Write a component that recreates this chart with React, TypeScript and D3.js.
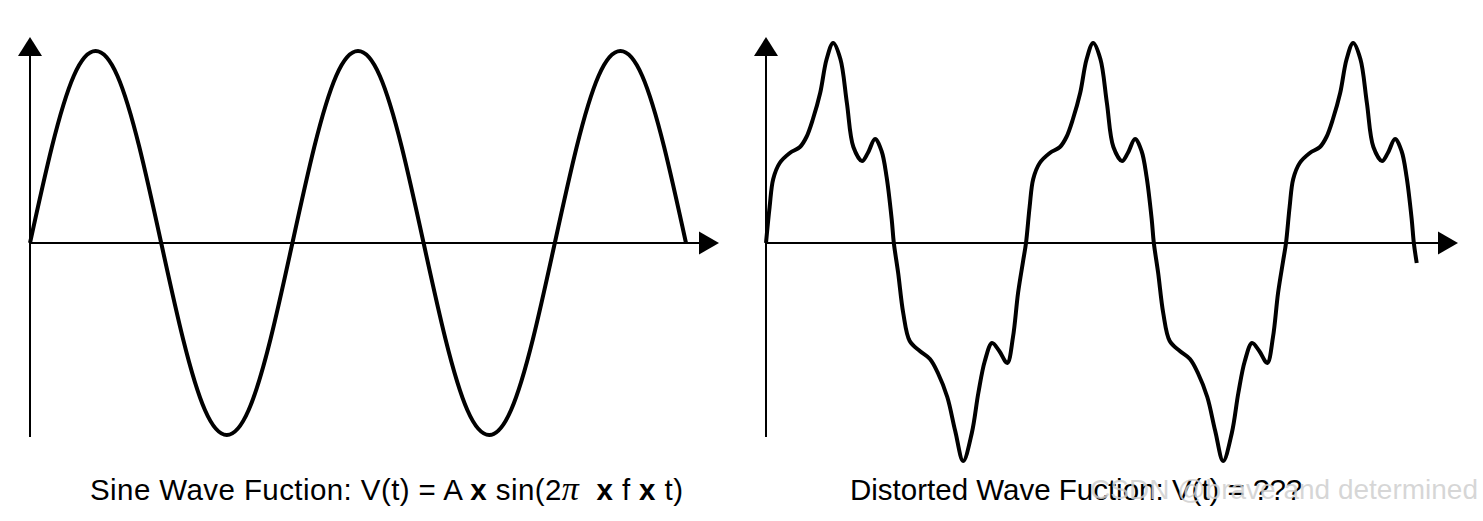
import React from "react";
import * as d3 from "d3";

// phase in degrees, amplitude normalised to the sine peak
const sineT = [0, 30, 60, 90, 120, 150, 180, 210, 240, 270, 300, 330, 360, 390, 420, 450, 480, 510, 540, 570, 600, 630, 660, 690, 720, 750, 780, 810, 840, 870, 900];
const sineV = [0, 0.5, 0.87, 1, 0.87, 0.5, 0, -0.5, -0.87, -1, -0.87, -0.5, 0, 0.5, 0.87, 1, 0.87, 0.5, 0, -0.5, -0.87, -1, -0.87, -0.5, 0, 0.5, 0.87, 1, 0.87, 0.5, 0];

const distortedT = [
    0, 5, 10, 19, 33, 47, 56, 65, 75, 84, 93, 103, 112, 121, 133, 141, 151, 160, 167, 174, 177,
    183, 190, 199, 213, 227, 238, 251, 262, 273, 285, 294, 303, 313, 323, 334, 342, 349, 356,
    360, 365, 370, 379, 393, 407, 416, 425, 435, 444, 453, 463, 472, 481, 493, 501, 511, 520, 527, 534, 537,
    543, 550, 559, 573, 587, 598, 611, 622, 633, 645, 654, 663, 673, 683, 694, 702, 709, 716,
    720, 725, 730, 739, 753, 767, 776, 785, 795, 804, 813, 823, 832, 841, 853, 861, 871, 880, 887, 894, 897, 901,
];
const distortedV = [
    0, 0.18, 0.32, 0.4, 0.45, 0.48, 0.53, 0.62, 0.75, 0.92, 1, 0.92, 0.7, 0.48, 0.41, 0.45, 0.52, 0.46, 0.33, 0.12, 0,
    -0.15, -0.35, -0.49, -0.54, -0.58, -0.65, -0.77, -0.94, -1.09, -0.95, -0.75, -0.59, -0.5, -0.54, -0.6, -0.47, -0.25, -0.09,
    0, 0.18, 0.32, 0.4, 0.45, 0.48, 0.53, 0.62, 0.75, 0.92, 1, 0.92, 0.7, 0.48, 0.41, 0.45, 0.52, 0.46, 0.33, 0.12, 0,
    -0.15, -0.35, -0.49, -0.54, -0.58, -0.65, -0.77, -0.94, -1.09, -0.95, -0.75, -0.59, -0.5, -0.54, -0.6, -0.47, -0.25, -0.09,
    0, 0.18, 0.32, 0.4, 0.45, 0.48, 0.53, 0.62, 0.75, 0.92, 1, 0.92, 0.7, 0.48, 0.41, 0.45, 0.52, 0.46, 0.33, 0.12, 0, -0.1,
];

const sineCaption = ["Sine Wave Fuction: V(t) = A ", "x", " sin(2", "π", "  ", "x", " f ", "x", " t)"];
const distortedCaption = "Distorted Wave Fuction: V(t) = ???";
const watermark = "CSDN @brave and determined";

const WIDTH = 1483;
const HEIGHT = 521;

const App = () => {
    const svgRef = React.useRef(null);

    React.useEffect(() => {
        const svg = d3.select(svgRef.current);
        svg.selectAll("*").remove();

        const panels = [
            {
                t: sineT, v: sineV,
                x: d3.scaleLinear().domain([0, 900]).range([30, 686]),
                y: d3.scaleLinear().domain([-1, 1]).range([435, 51]),
                axisRight: 719,
                curve: d3.curveNatural,
            },
            {
                t: distortedT, v: distortedV,
                x: d3.scaleLinear().domain([0, 900]).range([766, 1416]),
                y: d3.scaleLinear().domain([-1, 1]).range([443, 43]),
                axisRight: 1458,
                curve: d3.curveCatmullRom.alpha(0.5),
            },
        ];

        panels.forEach((p) => {
            const x0 = p.x(0);
            const y0 = p.y(0);
            const g = svg.append("g");
            // axes with arrow heads
            g.append("line")
                .attr("x1", x0).attr("x2", x0)
                .attr("y1", 437).attr("y2", 55)
                .attr("stroke", "#000").attr("stroke-width", 2);
            g.append("path")
                .attr("d", `M${x0},37L${x0 - 12},56L${x0 + 12},56Z`)
                .attr("fill", "#000");
            g.append("line")
                .attr("x1", x0).attr("x2", p.axisRight - 19)
                .attr("y1", y0).attr("y2", y0)
                .attr("stroke", "#000").attr("stroke-width", 2);
            g.append("path")
                .attr("d", `M${p.axisRight},${y0}L${p.axisRight - 20},${y0 - 11.5}L${p.axisRight - 20},${y0 + 11.5}Z`)
                .attr("fill", "#000");
            // the wave
            const line = d3
                .line<number>()
                .x((d, i) => p.x(p.t[i]))
                .y((d) => p.y(d))
                .curve(p.curve);
            g.append("path")
                .attr("fill", "none")
                .attr("stroke", "#000")
                .attr("stroke-width", 4)
                .attr("stroke-linejoin", "round")
                .attr("d", line(p.v));
        });

        const font = "'Liberation Sans', Arial, sans-serif";
        const cap1 = svg.append("text")
            .attr("x", 90).attr("y", 500)
            .attr("font-family", font).attr("font-size", 29.5)
            .attr("fill", "#000")
            .attr("textLength", 593)
            .attr("lengthAdjust", "spacing")
            .attr("xml:space", "preserve")
            .style("white-space", "pre");
        sineCaption.forEach((s) => {
            const ts = cap1.append("tspan").text(s);
            if (s === "x") ts.attr("font-weight", "bold");
            if (s === "π") ts.attr("font-style", "italic").attr("font-size", 34).attr("font-family", "'Liberation Serif', serif");
        });

        svg.append("text")
            .attr("x", 850).attr("y", 500)
            .attr("font-family", font).attr("font-size", 29.5)
            .attr("fill", "#000")
            .text(distortedCaption);

        svg.append("text")
            .attr("x", 1478).attr("y", 499)
            .attr("text-anchor", "end")
            .attr("font-family", font).attr("font-size", 28)
            .attr("fill", "#cfcfcf").attr("fill-opacity", 0.85)
            .text(watermark);
    }, []);

    return (
        <svg
            ref={svgRef}
            width={WIDTH}
            height={HEIGHT}
            style={{ position: "absolute", left: 0, top: 0, background: "#fff" }}
        />
    );
};

export default App;
